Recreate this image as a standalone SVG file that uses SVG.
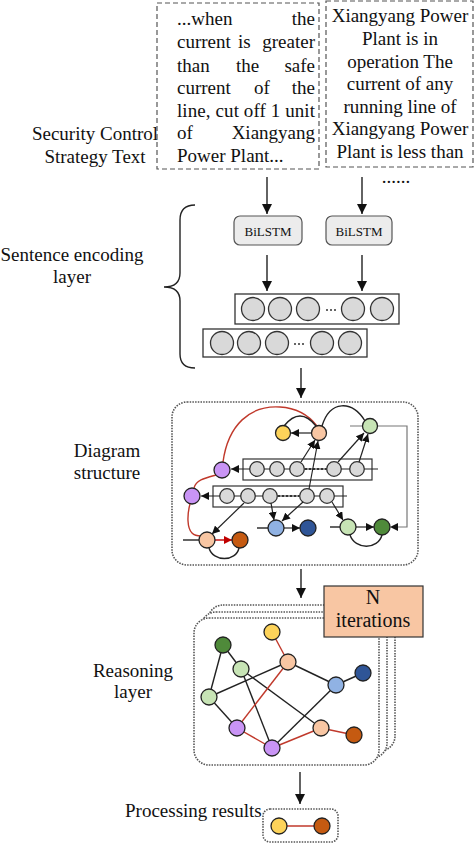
<svg xmlns="http://www.w3.org/2000/svg" width="474" height="848" viewBox="0 0 474 848">
<defs>
<style>
text{font-family:"Liberation Serif","Times New Roman",serif;fill:#111;}
.lbl{font-size:19px;}
.box{fill:none;stroke:#555;stroke-width:1.2;stroke-dasharray:5 3;}
.dot{fill:#fff;stroke:#555;stroke-width:1.6;stroke-dasharray:1.5 1.2;}
.ln{stroke:#222;stroke-width:1.4;fill:none;}
.ar{stroke:#222;stroke-width:1.4;fill:none;marker-end:url(#ah);}
.sa{stroke:#222;stroke-width:1.2;fill:none;marker-end:url(#sh);}
.red{stroke:#c0392b;stroke-width:1.4;fill:none;}
.gr{stroke:#777;stroke-width:1.2;fill:none;}
.g{fill:#d9d9d9;stroke:#333;stroke-width:1.3;}
.n{stroke:#222;stroke-width:1.3;}
.yl{fill:#fdd35a;}.pe{fill:#f8c6a3;}.lg{fill:#c7e4b5;}.dg{fill:#4f8a3a;}
.pu{fill:#c994f5;}.lb{fill:#90b2e3;}.db{fill:#2f5597;}.or{fill:#c55a11;}
.bl{fill:#ececec;stroke:#555;stroke-width:1.2;}
.el{fill:#333;}
</style>
<marker id="ah" viewBox="0 0 10 10" markerUnits="userSpaceOnUse" markerWidth="10" markerHeight="10" refX="10" refY="5" orient="auto"><path d="M0,0 L10,5 L0,10 z" fill="#111"/></marker>
<marker id="sh" viewBox="0 0 10 10" markerUnits="userSpaceOnUse" markerWidth="8" markerHeight="8" refX="10" refY="5" orient="auto"><path d="M0,0 L10,5 L0,10 z" fill="#111"/></marker>
<marker id="rh" viewBox="0 0 10 10" markerUnits="userSpaceOnUse" markerWidth="8" markerHeight="8" refX="10" refY="5" orient="auto"><path d="M0,0 L10,5 L0,10 z" fill="#c00000"/></marker>
</defs>

<g id="label-security">
<text class="lbl" x="95" y="140" text-anchor="middle">Security Control</text>
<text class="lbl" x="95" y="163" text-anchor="middle">Strategy Text</text>
</g>

<g id="text-box-1">
<rect class="box" x="157" y="3" width="162" height="166" fill="#fff"/>
<text class="lbl" x="177" y="25">...when</text><text class="lbl" x="315" y="25" text-anchor="end">the</text>
<text class="lbl" x="177" y="48">current</text><text class="lbl" x="238" y="48">is</text><text class="lbl" x="315" y="48" text-anchor="end">greater</text>
<text class="lbl" x="177" y="72">than</text><text class="lbl" x="236" y="72">the</text><text class="lbl" x="315" y="72" text-anchor="end">safe</text>
<text class="lbl" x="177" y="94">current</text><text class="lbl" x="254" y="94">of</text><text class="lbl" x="315" y="94" text-anchor="end">the</text>
<text class="lbl" x="177" y="117" textLength="138" lengthAdjust="spacing">line, cut off 1 unit</text>
<text class="lbl" x="177" y="139">of</text><text class="lbl" x="315" y="139" text-anchor="end">Xiangyang</text>
<text class="lbl" x="177" y="162">Power Plant...</text>
</g>

<g id="text-box-2">
<rect class="box" x="326" y="1" width="147" height="166"/>
<text class="lbl" x="400" y="22" text-anchor="middle">Xiangyang Power</text>
<text class="lbl" x="400" y="45" text-anchor="middle">Plant is in</text>
<text class="lbl" x="400" y="68" text-anchor="middle">operation The</text>
<text class="lbl" x="400" y="90" text-anchor="middle">current of any</text>
<text class="lbl" x="400" y="113" text-anchor="middle">running line of</text>
<text class="lbl" x="400" y="135" text-anchor="middle">Xiangyang Power</text>
<text class="lbl" x="400" y="158" text-anchor="middle">Plant is less than</text>
<text class="lbl" x="396" y="183" text-anchor="middle">......</text>
</g>

<g id="label-encoding">
<text class="lbl" x="72" y="261" text-anchor="middle">Sentence encoding</text>
<text class="lbl" x="72" y="283" text-anchor="middle">layer</text>
<path class="ln" d="M195,205 Q180,205 180,220 L180,273 Q180,287 164,287 Q180,287 180,301 L180,354 Q180,368 195,368"/>
</g>

<g id="bilstm-1">
<rect class="bl" x="234" y="216" width="68" height="29" rx="6"/>
<text x="268" y="235.5" font-size="13" text-anchor="middle" fill="#333">BiLSTM</text>
</g>
<g id="bilstm-2">
<rect class="bl" x="326" y="216" width="66" height="29" rx="6"/>
<text x="359" y="235.5" font-size="13" text-anchor="middle" fill="#333">BiLSTM</text>
</g>

<g id="encoding-row-1">
<rect x="235" y="294" width="164" height="30" fill="#fff" stroke="#333" stroke-width="1.3"/>
<circle class="g" cx="253" cy="309" r="11.5"/><circle class="g" cx="280" cy="309" r="11.5"/><circle class="g" cx="308" cy="309" r="11.5"/>
<circle class="g" cx="353" cy="309" r="11.5"/><circle class="g" cx="382" cy="309" r="11.5"/>
<circle class="el" cx="327" cy="310" r="1"/><circle class="el" cx="331" cy="310" r="1"/><circle class="el" cx="335" cy="310" r="1"/>
</g>
<g id="encoding-row-2">
<rect x="203" y="329" width="164" height="28" fill="#fff" stroke="#333" stroke-width="1.3"/>
<circle class="g" cx="222" cy="343" r="11.5"/><circle class="g" cx="249" cy="343" r="11.5"/><circle class="g" cx="277" cy="343" r="11.5"/>
<circle class="g" cx="322" cy="343" r="11.5"/><circle class="g" cx="350" cy="343" r="11.5"/>
<circle class="el" cx="295" cy="344" r="1"/><circle class="el" cx="299" cy="344" r="1"/><circle class="el" cx="303" cy="344" r="1"/>
</g>

<g id="connectors">
<line class="ar" x1="267" y1="177" x2="267" y2="214"/>
<line class="ar" x1="362" y1="177" x2="362" y2="214"/>
<line class="ar" x1="267" y1="255" x2="267" y2="291"/>
<line class="ar" x1="362" y1="255" x2="362" y2="291"/>
<line class="ar" x1="301" y1="368" x2="301" y2="398"/>
<line class="ar" x1="301" y1="569" x2="301" y2="598"/>
<line class="ar" x1="300" y1="772" x2="300" y2="804"/>
</g>

<g id="label-diagram">
<text class="lbl" x="107" y="457" text-anchor="middle">Diagram</text>
<text class="lbl" x="107" y="479" text-anchor="middle">structure</text>
</g>

<g id="diagram-structure">
<rect class="dot" x="172" y="402" width="246" height="163" rx="15"/>
<path class="red" d="M223,462 C228,425 250,405 280,407 C298,408 310,417 317,426"/>
<path class="red" d="M216,475 C205,478 196,480 194,488"/>
<path class="red" d="M190,504 C187,515 187,528 192,533 C195,536 198,536 201,536"/>
<path class="ln" d="M284,426 Q300,406 316,426"/>
<path class="ln" d="M322,426 C330,400 352,400 365,421"/>
<path class="gr" d="M350,426 L362,426 M378,426 L407,426 L407,527 L398,527"/>
<path d="M390,527 L398,523 L398,531 z" fill="#111"/>
<rect x="243" y="459" width="129" height="21" fill="#fff" stroke="#333" stroke-width="1.2"/>
<line class="sa" x1="378" y1="469" x2="231" y2="469"/>
<rect x="213" y="486" width="130" height="21" fill="#fff" stroke="#333" stroke-width="1.2"/>
<line class="sa" x1="347" y1="496" x2="201" y2="496"/>
<line x1="305" y1="469" x2="327" y2="469" stroke="#333" stroke-width="2" stroke-dasharray="2 2"/>
<line x1="278" y1="496" x2="299" y2="496" stroke="#333" stroke-width="2" stroke-dasharray="2 2"/>
<g class="g">
<circle cx="257" cy="469" r="7.3"/><circle cx="277" cy="469" r="7.3"/><circle cx="297" cy="469" r="7.3"/><circle cx="334" cy="469" r="7.3"/><circle cx="357" cy="469" r="7.3"/>
<circle cx="227" cy="496" r="7.3"/><circle cx="248" cy="496" r="7.3"/><circle cx="270" cy="496" r="7.3"/><circle cx="307" cy="496" r="7.3"/><circle cx="327" cy="496" r="7.3"/>
</g>
<line class="sa" x1="311" y1="433" x2="291" y2="433"/>
<line class="sa" x1="301" y1="462" x2="315" y2="440"/>
<line class="sa" x1="309" y1="489" x2="318" y2="441"/>
<line class="sa" x1="338" y1="462" x2="364" y2="433"/>
<line class="sa" x1="359" y1="462" x2="368" y2="434"/>
<line class="sa" x1="244" y1="503" x2="212" y2="534"/>
<line class="sa" x1="271" y1="503" x2="274" y2="520"/>
<line class="sa" x1="303" y1="502" x2="282" y2="521"/>
<line class="sa" x1="332" y1="502" x2="343" y2="520"/>
<line class="ln" x1="183" y1="540" x2="199" y2="540"/>
<line x1="215" y1="540" x2="232" y2="540" stroke="#c00000" stroke-width="1.4" marker-end="url(#rh)"/>
<path class="ln" d="M209,548 C213,562 236,562 239,548"/>
<line class="ln" x1="257" y1="528" x2="268" y2="528"/>
<line class="sa" x1="284" y1="528" x2="300" y2="528"/>
<line class="ln" x1="330" y1="527" x2="340" y2="527"/>
<line class="sa" x1="356" y1="527" x2="374" y2="527"/>
<path class="ln" d="M350,535 C355,550 378,550 382,535"/>
<g class="n">
<circle class="yl" cx="283" cy="433" r="7.5"/><circle class="pe" cx="319" cy="433" r="7.5"/><circle class="lg" cx="370" cy="426" r="7.5"/>
<circle class="pu" cx="222" cy="470" r="8"/><circle class="pu" cx="192" cy="496" r="8"/>
<circle class="pe" cx="207" cy="540" r="8"/><circle class="or" cx="240" cy="540" r="8"/>
<circle class="lb" cx="276" cy="528" r="8"/><circle class="db" cx="308" cy="528" r="8"/>
<circle class="lg" cx="348" cy="527" r="8"/><circle class="dg" cx="382" cy="527" r="8"/>
</g>
</g>

<g id="label-reasoning">
<text class="lbl" x="133" y="677" text-anchor="middle">Reasoning</text>
<text class="lbl" x="133" y="698" text-anchor="middle">layer</text>
</g>

<g id="reasoning-layer">
<rect class="dot" x="208" y="605" width="187" height="146" rx="15"/>
<rect class="dot" x="201" y="612" width="186" height="146" rx="15"/>
<rect class="dot" x="194" y="618" width="185" height="147" rx="15"/>
<g class="ln">
<line x1="223" y1="645" x2="241" y2="669"/><line x1="223" y1="645" x2="209" y2="697"/>
<line x1="241" y1="669" x2="272" y2="748"/><line x1="241" y1="669" x2="321" y2="728"/>
<line x1="209" y1="697" x2="288" y2="662"/><line x1="209" y1="697" x2="237" y2="728"/>
<line x1="288" y1="662" x2="336" y2="685"/><line x1="336" y1="685" x2="363" y2="673"/>
<line x1="272" y1="748" x2="336" y2="685"/>
</g>
<g class="red">
<line x1="272" y1="632" x2="288" y2="662"/><line x1="288" y1="662" x2="237" y2="728"/>
<line x1="237" y1="728" x2="272" y2="748"/><line x1="272" y1="748" x2="321" y2="728"/>
<line x1="321" y1="728" x2="354" y2="735"/>
</g>
<g class="n">
<circle class="yl" cx="272" cy="632" r="8"/><circle class="dg" cx="223" cy="645" r="8"/>
<circle class="lg" cx="241" cy="669" r="8"/><circle class="pe" cx="288" cy="662" r="8"/>
<circle class="lg" cx="209" cy="697" r="8"/><circle class="lb" cx="336" cy="685" r="8"/>
<circle class="db" cx="363" cy="673" r="8"/><circle class="pu" cx="237" cy="728" r="8"/>
<circle class="pu" cx="272" cy="748" r="8"/><circle class="pe" cx="321" cy="728" r="8"/>
<circle class="or" cx="354" cy="735" r="8"/>
</g>
</g>

<g id="n-iterations">
<rect x="324" y="586" width="99" height="51" fill="#f8c6a3" stroke="#333" stroke-width="1.2"/>
<text x="373" y="604" font-size="20" text-anchor="middle">N</text>
<text x="373" y="627" font-size="20" text-anchor="middle">iterations</text>
</g>

<g id="processing-results">
<text class="lbl" x="125" y="817">Processing results</text>
<rect class="dot" x="263" y="809" width="75" height="33" rx="7"/>
<line class="red" x1="279" y1="826" x2="322" y2="826"/>
<circle class="n yl" cx="279" cy="826" r="8"/>
<circle class="n or" cx="322" cy="826" r="8"/>
</g>
</svg>
